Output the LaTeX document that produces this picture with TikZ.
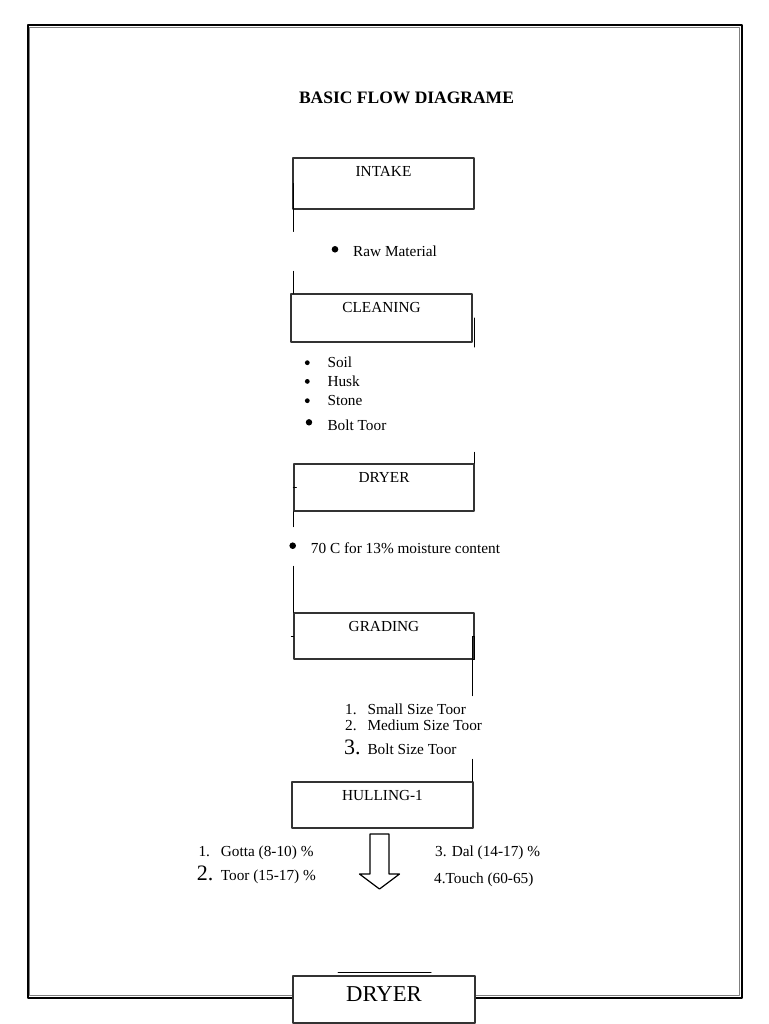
\documentclass[tikz,border=0pt]{standalone}
\usepackage{fontspec}
\setmainfont{Liberation Serif}
\usepackage{tikz}

\begin{document}
\begin{tikzpicture}[line cap=round,line join=round,x=1pt,y=-1pt,
  font=\fontsize{15.3}{18}\selectfont,
  stage/.style={draw=black!80,line width=1.3pt,fill=white,inner sep=0pt},
  lbl/.style={anchor=base,yshift=-19pt,inner sep=0pt},
  txt/.style={anchor=base west,inner sep=0pt},
  bignum/.style={anchor=base west,inner sep=0pt,font=\fontsize{22}{24}\selectfont},
  conn/.style={line width=1pt,black}]
\useasboundingbox (0,0) rectangle (768,1024);
% page frame
\draw [line width=2pt] (27.5,25.3) rectangle (741.5,998);
\draw [line width=1.2pt,gray] (29.8,27.8) rectangle (739.2,995.5);
% title
\node [anchor=base,inner sep=0pt,font=\bfseries\fontsize{17.5}{20}\selectfont] (title) at (406.5,103.3) {BASIC FLOW DIAGRAME};
% stages
\node [stage,minimum width=181pt,minimum height=51pt,label={[lbl]north:INTAKE}] (intake) at (383.5,183.5) {};
\node [stage,minimum width=181pt,minimum height=48pt,label={[lbl]north:CLEANING}] (cleaning) at (381.5,318) {};
\node [stage,minimum width=180pt,minimum height=47pt,label={[lbl]north:DRYER}] (dryer) at (384,487.5) {};
\node [stage,minimum width=180pt,minimum height=46pt,label={[lbl]north:GRADING}] (grading) at (384,636) {};
\node [stage,minimum width=181pt,minimum height=46pt,label={[lbl]north:HULLING-1}] (hulling) at (382.5,805) {};
\node [stage,minimum width=182pt,minimum height=47pt,label={[lbl,yshift=-6.7pt,font=\fontsize{22.7}{26}\selectfont]north:DRYER}] (dryerb) at (384,999.5) {};
% stubs
\draw [conn] ([xshift=1pt]intake.west) -- ++(0,48);
\draw [conn] ([xshift=3pt]cleaning.north west) -- ++(0,-22);
\draw [conn] ([xshift=1.5pt]cleaning.east) -- ++(0,29);
\draw [conn] (dryer.north east) -- ++(0,-11);
\draw [conn] (dryer.west) -- ++(3,0);
\draw [conn] (dryer.south west) -- ++(0,15);
\draw [conn] (grading.north west) -- ++(0,-46);
\draw [conn] (grading.west) -- ++(-2,0);
\draw [conn] ([xshift=-2.5pt]grading.east) rectangle (grading.south east);
\draw [conn] ([xshift=-2.5pt]grading.south east) -- ++(0,36);
\draw [conn] ([xshift=-1pt]hulling.north east) -- ++(0,-22);
\draw [conn] ([shift={(-46,-3)}]dryerb.north) -- ([shift={(47,-3)}]dryerb.north);
% intake notes
\fill (335,249.3) circle (3.3pt);
\node [txt] (raw) at (353,256) {Raw Material};
% cleaning notes
\fill (307.3,362.7) circle (2.4pt);
\fill (307.3,381.4) circle (2.4pt);
\fill (307.3,400.7) circle (2.4pt);
\fill (309,422.3) circle (3.2pt);
\node [txt] (soil) at (327.3,367.3) {Soil};
\node [txt] (husk) at (327.3,386) {Husk};
\node [txt] (stone) at (327.3,405.3) {Stone};
\node [txt] (bolt) at (327.3,430.7) {Bolt Toor};
% dryer notes
\fill (292.7,545.7) circle (3.3pt);
\node [txt] (temp) at (310.7,553.3) {70 C for 13\% moisture content};
% grading notes
\node [txt] (n1) at (345,714) {1.};
\node [txt] (small) at (367.3,714) {Small Size Toor};
\node [txt] (n2) at (345,730.7) {2.};
\node [txt] (medium) at (367.3,730.7) {Medium Size Toor};
\node [bignum] (n3) at (344,754) {3.};
\node [txt] (boltsize) at (367.3,754) {Bolt Size Toor};
% hulling notes
\node [txt] (h1) at (198.3,856) {1.};
\node [txt] (gotta) at (220.7,856) {Gotta (8-10) \%};
\node [bignum] (h2) at (196.7,880) {2.};
\node [txt] (toor) at (220.7,880) {Toor (15-17) \%};
\node [txt] (dal) at (435,856) {3. Dal (14-17) \%};
\node [txt] (touch) at (434,883.3) {4.Touch (60-65)};
% block arrow
\draw [line width=1.2pt,fill=white] (370,834) -- (389,834) -- (389,874) -- (399.5,874) -- (379.5,889) -- (359.5,874) -- (370,874) -- cycle;
\end{tikzpicture}
\end{document}
